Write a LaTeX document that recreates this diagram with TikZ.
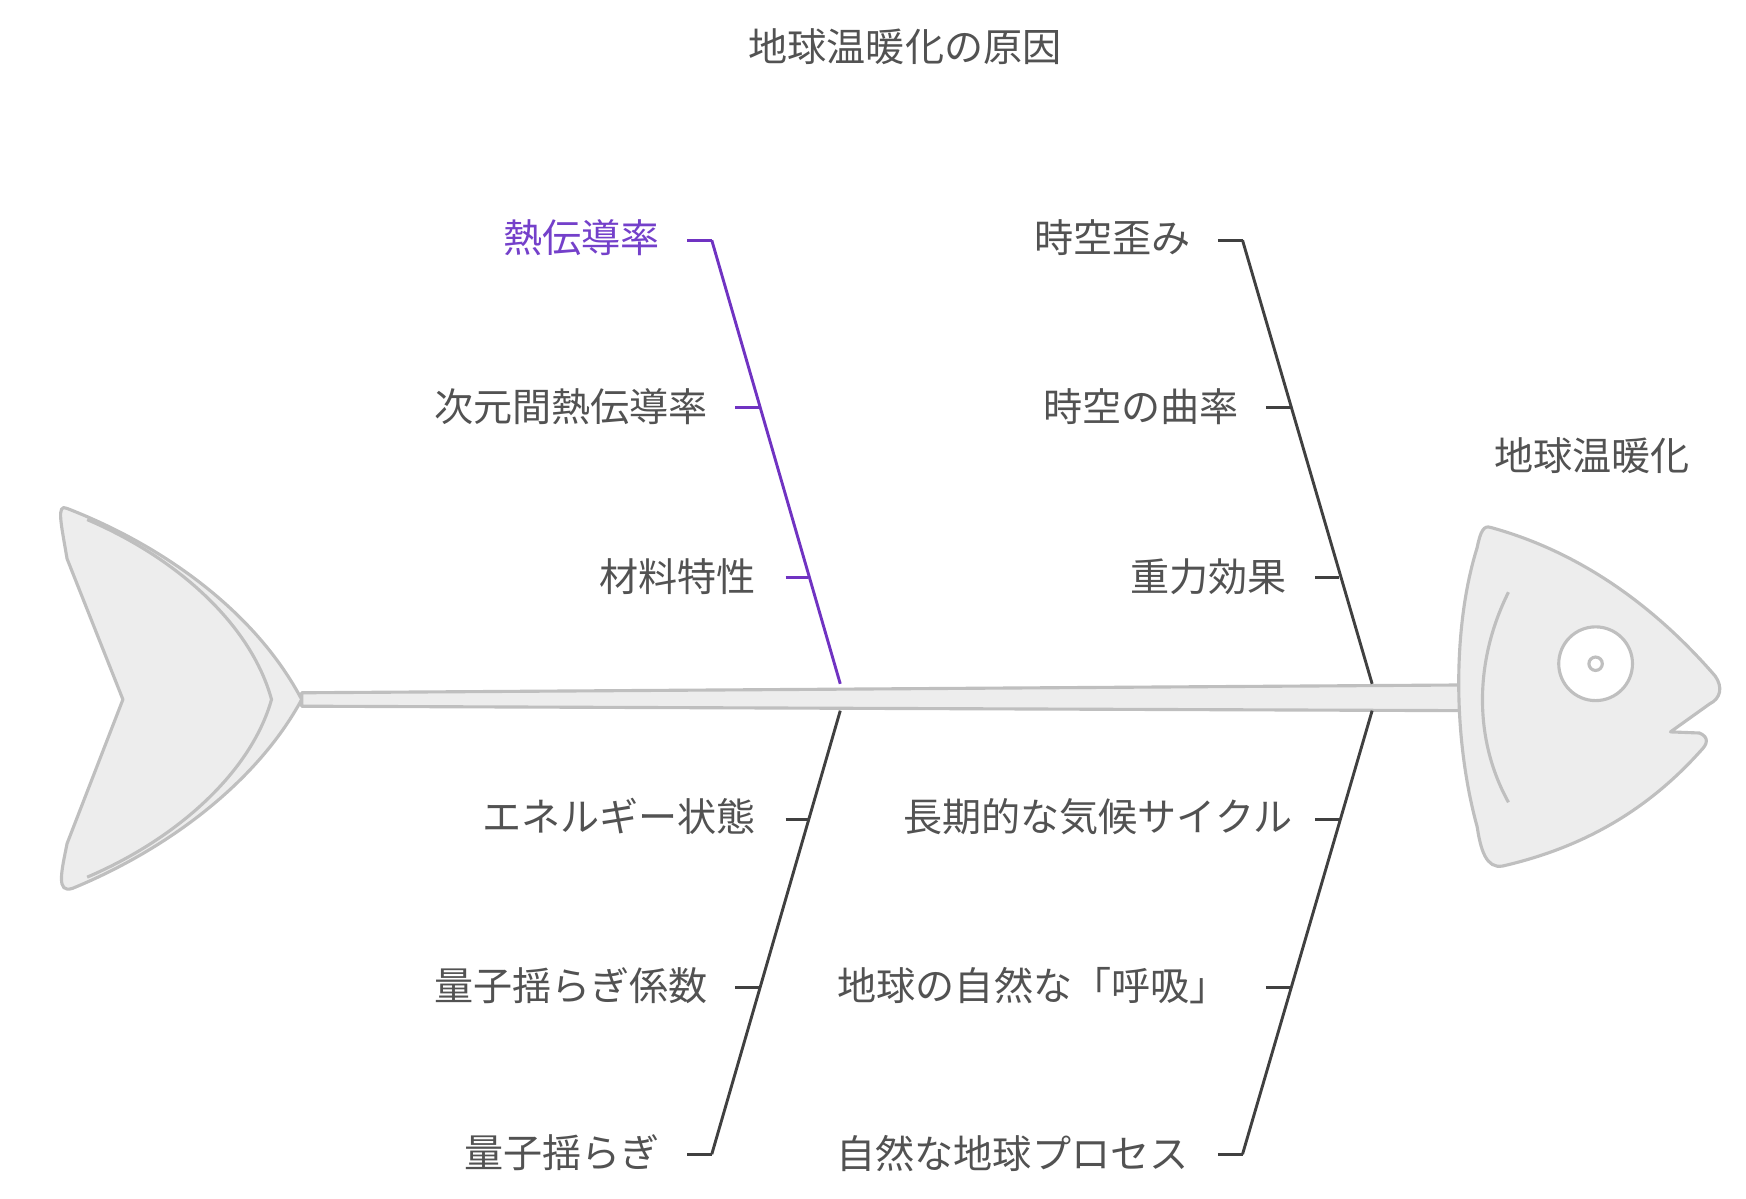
\documentclass[tikz,border=0pt]{standalone}
\usepackage{fontspec}
\setmainfont{Noto Sans CJK JP}
\begin{document}
\begin{tikzpicture}[x=0.5pt,y=-0.5pt,
  fish/.style={draw=black!25,fill=black!7,line width=1.4pt,line join=round},
  bone/.style={draw=black!75,line width=1.3pt},
  pbone/.style={draw=violet!60!blue!80,line width=1.3pt},
  lbl/.style={anchor=east,text=black!68,font=\fontsize{17.5}{20}\selectfont,inner sep=0pt},
  plbl/.style={lbl,text=violet!55!blue!75}]
\useasboundingbox (0,0) rectangle (1562.6,1072.2);
% tail
\path[fish] (60,455) .. controls (50,450) and (55,470) .. (60,500) -- (110,626) -- (60,755) .. controls (55,780) and (50,800) .. (65,795)
  .. controls (150,760) and (230,700) .. (270,626) .. controls (230,550) and (150,490) .. (60,455) -- cycle;
\draw[draw=black!25,line width=1.4pt] (78,465) .. controls (160,500) and (225,560) .. (243,626) .. controls (225,690) and (160,750) .. (78,785);
% spine
\path[fish] (270,620) -- (1310,613) -- (1310,636) -- (270,632) -- cycle;
% head
\path[fish] (1334,472) .. controls (1400,490) and (1470,530) .. (1535,605) .. controls (1542,615) and (1540,625) .. (1530,630) -- (1495,655) -- (1521,656) .. controls (1530,660) and (1528,666) .. (1522,672)
  .. controls (1470,730) and (1410,760) .. (1345,775) .. controls (1330,778) and (1325,760) .. (1322,740)
  .. controls (1300,660) and (1300,560) .. (1322,490) .. controls (1325,475) and (1328,470) .. (1334,472) -- cycle;
\draw[draw=black!25,line width=1.4pt] (1350,530) .. controls (1320,590) and (1318,660) .. (1350,718);
\draw[draw=black!25,fill=white,line width=1.4pt] (1428,594) circle (33);
\draw[draw=black!25,line width=1.4pt] (1428,594) circle (6);
% bones
\coordinate (ua) at (752,612); \coordinate (ub) at (1228,612);
\coordinate (la) at (752,636); \coordinate (lb) at (1228,636);
\coordinate (uat) at (637,215); \coordinate (ubt) at (1112,215);
\coordinate (lat) at (637,1033); \coordinate (lbt) at (1112,1033);
\draw[pbone] (uat) -- (ua);
\draw[pbone] (615,215) -- (uat) (658,365) -- (680,365) (703,517) -- (723,517);
\draw[bone] (ubt) -- (ub);
\draw[bone] (1090,215) -- (ubt) (1133,365) -- (1155,365) (1177,517) -- (1198,517);
\draw[bone] (la) -- (lat);
\draw[bone] (703,733) -- (724,733) (658,884) -- (680,884) (615,1033) -- (lat);
\draw[bone] (lb) -- (lbt);
\draw[bone] (1177,733) -- (1198,733) (1133,884) -- (1155,884) (1090,1033) -- (lbt);
% labels
\node[plbl] (t1) at (591,213) {熱伝導率};
\node[lbl] (t2) at (634,364) {次元間熱伝導率};
\node[lbl] (t3) at (677,516) {材料特性};
\node[lbl] (t4) at (1066,213) {時空歪み};
\node[lbl] (t5) at (1109,364) {時空の曲率};
\node[lbl] (t6) at (1152,516) {重力効果};
\node[lbl] (t7) at (677,731) {エネルギー状態};
\node[lbl] (t8) at (634,882) {量子揺らぎ係数};
\node[lbl] (t9) at (591,1032) {量子揺らぎ};
\node[lbl] (t10) at (1157,731) {長期的な気候サイクル};
\node[lbl] (t11) at (1100,882) {地球の自然な「呼吸」};
\node[lbl] (t12) at (1064,1032) {自然な地球プロセス};
\node[lbl,anchor=center] (title) at (810,42) {地球温暖化の原因};
\node[lbl,anchor=center] (eff) at (1425,408) {地球温暖化};
\end{tikzpicture}
\end{document}
